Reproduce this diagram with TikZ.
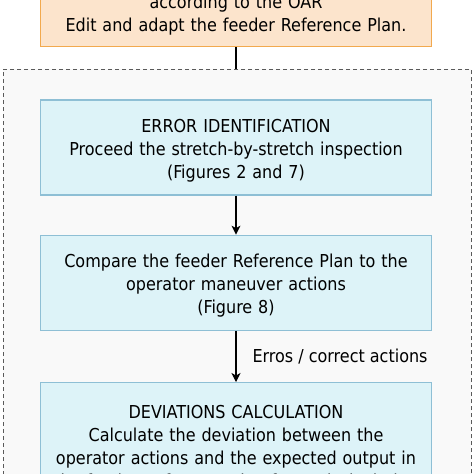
\documentclass[tikz,border=0pt]{standalone}
\usepackage{fontspec}
\setmainfont{DejaVu Sans Condensed}
\usepackage{xcolor}
\usetikzlibrary{arrows,arrows.meta,positioning}
\definecolor{planfill}{HTML}{FCE4CC}
\definecolor{planline}{HTML}{F2A94E}
\definecolor{stepfill}{HTML}{DDF3F8}
\definecolor{stepline}{HTML}{8EBFD5}
\definecolor{groupfill}{HTML}{F9F9F9}
\definecolor{groupline}{HTML}{5A5A5A}
\newcommand{\boxfont}{\fontsize{17.8pt}{23pt}\selectfont}
\tikzset{
  stepbox/.style={draw,rectangle,line width=1.3pt,minimum width=388pt,
    text width=384pt,align=center,font=\boxfont},
  planbox/.style={stepbox,fill=planfill,draw=planline,inner ysep=11pt},
  checkbox/.style={stepbox,fill=stepfill,draw=stepline,minimum height=95pt},
  container/.style={draw=groupline,fill=groupfill,line width=0.9pt,
    dash pattern=on 4pt off 3pt,minimum width=468pt,minimum height=440pt},
  flow/.style={-{Stealth[length=9pt,width=9pt,inset=2.5pt]},line width=1.1pt},
  link/.style={-,line width=1.1pt}
}
\begin{document}
\begin{tikzpicture}[x=1pt,y=1pt]
  \useasboundingbox (0,0) rectangle (474,-474);
  \clip (0,0) rectangle (474,-474);

  \node (group) [container,anchor=north] at (237,-69) {};

  \node (plan) [planbox,anchor=south] at (236,-47)
    {according to the OAR\\Edit and adapt the feeder Reference Plan.};

  \node (errid) [checkbox] at (236,-147.5)
    {\rule{0pt}{20pt}ERROR IDENTIFICATION\\Proceed the stretch-by-stretch inspection\\(Figures 2 and 7)};
  \node (compare) [checkbox,below=39pt of errid]
    {\rule{0pt}{19pt}Compare the feeder Reference Plan to the\\operator maneuver actions\\(Figure 8)};
  \node (deviation) [checkbox,anchor=north,inner ysep=23pt] at (236,-382)
    {DEVIATIONS CALCULATION\\Calculate the deviation between the\\operator actions and the expected output in\\the feeder Reference Plan for each deviation};

  \draw[link] (plan.south) -- (plan.south |- group.north);
  \path
    (errid) edge[flow] (compare)
    (compare) edge[flow] node[right,inner sep=0pt,xshift=16pt,font=\boxfont] {Erros / correct actions} (deviation)
    ;
\end{tikzpicture}
\end{document}
